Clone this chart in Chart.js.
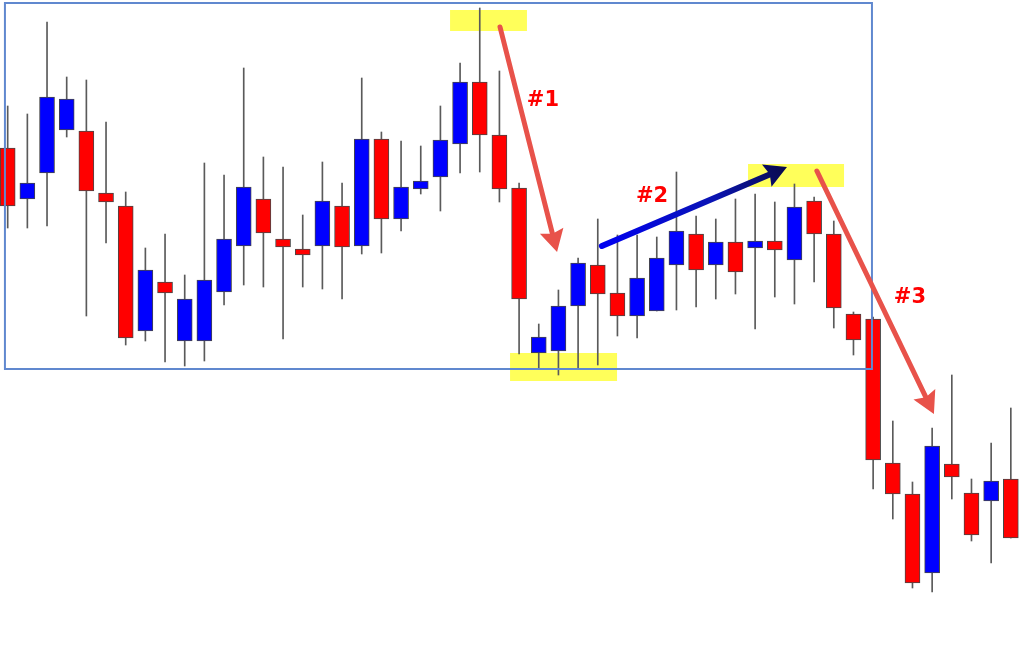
<!DOCTYPE html>
<html>
<head>
<meta charset="utf-8">
<script src="https://cdn.jsdelivr.net/npm/chart.js@4/dist/chart.umd.min.js"></script>
<style>
  html, body { margin: 0; padding: 0; background: #fff; }
  #wrap { width: 1024px; height: 671px; position: relative; }
</style>
</head>
<body>
<div id="wrap"><canvas id="main-chart"></canvas></div>
<script>
// candle OHLC (arbitrary price units)
const opens  = [552, 501, 527, 570, 569, 507, 494, 369, 418, 359, 359, 408, 454, 501, 461, 451, 454, 494, 454, 561, 481, 511, 523, 556, 618, 565, 512, 347, 349, 394, 435, 407, 384, 389, 435, 466, 435, 458, 452, 459, 440, 499, 466, 386, 381, 237, 206, 127, 236, 207, 199, 221];
const highs  = [594, 586, 678, 623, 620, 578, 508, 452, 466, 425, 537, 525, 632, 543, 533, 485, 538, 517, 622, 568, 559, 554, 594, 637, 692, 629, 517, 376, 410, 442, 481, 465, 465, 463, 528, 484, 481, 501, 506, 498, 516, 503, 479, 388, 383, 279, 218, 272, 325, 221, 257, 292];
const lows   = [472, 472, 474, 563, 384, 457, 355, 359, 338, 334, 339, 395, 415, 413, 361, 413, 411, 401, 446, 447, 469, 506, 489, 527, 528, 498, 346, 331, 325, 332, 335, 364, 362, 389, 390, 393, 401, 406, 371, 403, 396, 418, 372, 345, 211, 181, 112, 108, 201, 159, 137, 162];
const closes = [494, 517, 603, 601, 509, 498, 362, 430, 407, 401, 420, 461, 513, 467, 453, 445, 499, 453, 561, 481, 513, 519, 560, 618, 565, 511, 401, 363, 394, 437, 406, 384, 422, 442, 469, 430, 458, 428, 459, 450, 493, 466, 392, 360, 240, 206, 117, 254, 223, 165, 219, 162];
const candleIdx = opens.map((_, i) => i);

// annotations, in candle index / price units
const boxRange   = { x0: -0.14, x1: 43.94, y0: 697, y1: 331 };
const highlights = [
  { x0: 22.49, x1: 26.40, y0: 690, y1: 669 },
  { x0: 25.54, x1: 30.98, y0: 347, y1: 319 },
  { x0: 37.64, x1: 42.52, y0: 536, y1: 513 }
];
const arrows = [
  { from: [25.03, 673], to: [27.93, 448], kind: 'red' },
  { from: [30.21, 454], to: [39.62, 533], kind: 'blue' },
  { from: [41.14, 529], to: [47.09, 286], kind: 'red' }
];
const marks = [
  { text: '#1', at: [27.21, 599] },
  { text: '#2', at: [32.76, 503] },
  { text: '#3', at: [45.87, 402] }
];

const UP   = '#0000FF';
const DOWN = '#FF0000';

const wickData = candleIdx.map(i => ({ x: i, y: [lows[i], highs[i]] }));
const bodyData = candleIdx.map(i => ({ x: i, y: [opens[i], closes[i]] }));
const bodyColors = candleIdx.map(i => closes[i] >= opens[i] ? UP : DOWN);

// line + filled head, head slightly notched at the back
function drawArrow(ctx, x1, y1, x2, y2, color, width, head) {
  const ang = Math.atan2(y2 - y1, x2 - x1);
  const c = Math.cos(ang), s = Math.sin(ang);
  const bx = x2 - c * head * 0.8;
  const by = y2 - s * head * 0.8;
  ctx.save();
  ctx.strokeStyle = color;
  ctx.fillStyle = color;
  ctx.lineWidth = width;
  ctx.lineCap = 'round';
  ctx.beginPath();
  ctx.moveTo(x1, y1);
  ctx.lineTo(bx, by);
  ctx.stroke();
  const half = head * 0.55;
  ctx.beginPath();
  ctx.moveTo(x2, y2);
  ctx.lineTo(x2 - c * head - s * half, y2 - s * head + c * half);
  ctx.lineTo(x2 - c * head * 0.85, y2 - s * head * 0.85);
  ctx.lineTo(x2 - c * head + s * half, y2 - s * head - c * half);
  ctx.closePath();
  ctx.fill();
  ctx.restore();
}

const annotatePlugin = {
  id: 'annotate',
  beforeDatasetsDraw(chart) {
    const { ctx, scales: { x, y } } = chart;
    ctx.save();
    ctx.fillStyle = '#FFFF5A';
    highlights.forEach(h => {
      const px0 = x.getPixelForValue(h.x0), px1 = x.getPixelForValue(h.x1);
      const py0 = y.getPixelForValue(h.y0), py1 = y.getPixelForValue(h.y1);
      ctx.fillRect(px0, py0, px1 - px0, py1 - py0);
    });
    ctx.restore();
  },
  afterDatasetsDraw(chart) {
    const { ctx, scales: { x, y } } = chart;
    // range box
    ctx.save();
    ctx.strokeStyle = '#6088CF';
    ctx.lineWidth = 2;
    const bx0 = x.getPixelForValue(boxRange.x0), bx1 = x.getPixelForValue(boxRange.x1);
    const by0 = y.getPixelForValue(boxRange.y0), by1 = y.getPixelForValue(boxRange.y1);
    ctx.strokeRect(bx0, by0, bx1 - bx0, by1 - by0);
    ctx.restore();

    arrows.forEach(a => {
      const x1 = x.getPixelForValue(a.from[0]), y1 = y.getPixelForValue(a.from[1]);
      const x2 = x.getPixelForValue(a.to[0]),   y2 = y.getPixelForValue(a.to[1]);
      if (a.kind === 'blue') {
        const g = ctx.createLinearGradient(x1, y1, x2, y2);
        g.addColorStop(0, '#0000F0');
        g.addColorStop(0.6, '#0A14B4');
        g.addColorStop(1, '#0A0A4A');
        drawArrow(ctx, x1, y1, x2, y2, g, 6, 22);
      } else {
        drawArrow(ctx, x1, y1, x2, y2, '#E8524A', 5, 22);
      }
    });

    ctx.save();
    ctx.fillStyle = '#FF0000';
    ctx.font = 'bold 21px "DejaVu Sans", Verdana, sans-serif';
    ctx.textAlign = 'center';
    ctx.textBaseline = 'middle';
    marks.forEach(m => {
      ctx.fillText(m.text, x.getPixelForValue(m.at[0]), y.getPixelForValue(m.at[1]));
    });
    ctx.restore();
  }
};

new Chart(document.getElementById('main-chart'), {
  type: 'bar',
  data: {
    datasets: [
      {
        label: 'body', data: bodyData, order: 0,
        backgroundColor: bodyColors, borderColor: '#474747', borderWidth: 1,
        borderSkipped: false, barThickness: 15
      },
      {
        label: 'wick', data: wickData, order: 1,
        backgroundColor: '#5A5A5A', borderWidth: 0, barThickness: 1
      }
    ]
  },
  options: {
    responsive: true, maintainAspectRatio: false, animation: false,
    layout: { padding: 0 },
    grouped: false,
    plugins: { legend: { display: false }, title: { display: false }, tooltip: { enabled: false } },
    scales: {
      x: { type: 'linear', display: false, min: -0.391, max: 51.67, offset: false },
      y: { display: false, min: 29, max: 700 }
    }
  },
  plugins: [annotatePlugin]
});
</script>
</body>
</html>
